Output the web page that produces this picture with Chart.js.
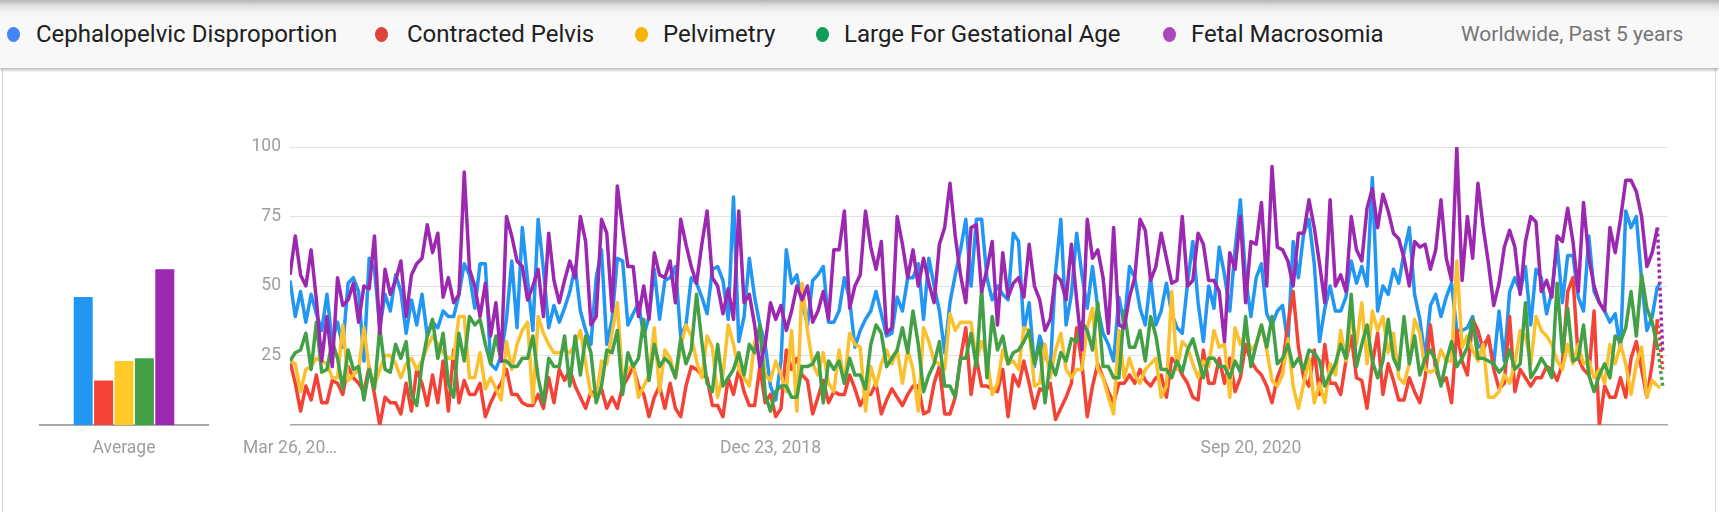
<!DOCTYPE html>
<html><head><meta charset="utf-8">
<script src="https://cdn.jsdelivr.net/npm/chart.js@4"></script>
<style>
html,body{margin:0;padding:0;}
body{width:1719px;height:512px;position:relative;overflow:hidden;background:#fff;font-family:Roboto,sans-serif;}
#header{position:absolute;left:0;top:0;width:1719px;height:68px;background:linear-gradient(#b5b5b5 0px,#dcdcdc 5px,#f2f2f2 12px,#f8f8f8 18px);box-shadow:0 2px 3px rgba(0,0,0,0.28);z-index:2;}
.item{position:absolute;top:20px;font-size:24px;line-height:28px;color:#202020;white-space:nowrap;}
.dot{position:absolute;top:27px;width:13px;height:15px;border-radius:50%;}
#card{position:absolute;left:2px;top:68px;width:1712px;height:460px;border-left:1px solid #d6d6d6;border-right:1px solid #d6d6d6;}
#avg{position:absolute;left:0;top:120px;}
#main{position:absolute;left:230px;top:120px;}
</style>
</head>
<body>
<div id="card"></div>
<div id="header">
  <div class="dot" style="left:7px;background:#4285f4"></div><div class="item" style="left:36px">Cephalopelvic Disproportion</div>
  <div class="dot" style="left:375px;background:#db4437"></div><div class="item" style="left:407px">Contracted Pelvis</div>
  <div class="dot" style="left:635px;background:#f4b400"></div><div class="item" style="left:663px">Pelvimetry</div>
  <div class="dot" style="left:816px;background:#0f9d58"></div><div class="item" style="left:844px">Large For Gestational Age</div>
  <div class="dot" style="left:1163px;background:#ab47bc"></div><div class="item" style="left:1191px">Fetal Macrosomia</div>
  <div class="item" style="left:1461px;font-size:21px;color:#757575">Worldwide, Past 5 years</div>
</div>
<canvas id="avg" width="230" height="350"></canvas>
<canvas id="main" width="1489" height="350"></canvas>
<script>
const seriesNames = ["Cephalopelvic Disproportion","Contracted Pelvis","Pelvimetry","Large For Gestational Age","Fetal Macrosomia"];

const cephalopelvic = [
52,39,48,37,47,40,34,47,30,37,28,51,53,48,23,60,56,35,47,41,54,48,33,45,36,
47,32,37,35,41,39,39,47,58,54,42,58,58,22,20,25,38,59,35,71,52,34,74,56,35,43,37,42,
48,57,41,34,29,53,63,29,38,60,59,36,40,44,32,39,56,38,52,53,57,32,36,53,51,46,40,
56,57,52,38,82,30,39,60,46,36,29,14,9,23,63,51,54,44,36,52,54,57,37,37,41,53,
45,28,34,38,41,48,40,32,33,46,41,53,53,58,38,60,50,41,26,44,54,63,74,50,74,74,53,
45,50,47,45,69,66,34,44,21,32,26,20,55,74,36,47,69,54,42,57,42,33,29,23,46,36,
57,53,42,36,53,36,41,51,40,35,33,51,66,44,30,50,42,64,54,41,63,81,53,39,53,58,
40,36,41,43,29,66,53,69,74,58,30,42,50,41,41,46,59,51,57,50,89,41,50,47,56,51,
62,71,47,38,24,43,47,39,46,51,34,34,35,39,28,29,31,22,41,23,48,53,48,57,36,56,
53,40,48,65,44,61,61,46,41,68,48,44,41,37,40,27,77,71,75,52,34,39,50,51];

const contractedPelvis = [
23,15,5,14,9,18,8,8,16,15,11,21,17,15,12,21,11,0,10,8,8,4,15,5,20,
15,7,18,8,23,5,27,8,16,11,11,15,3,8,12,15,20,11,11,8,7,7,11,6,17,8,20,16,
20,14,10,6,12,11,13,6,10,6,14,17,21,14,11,3,10,14,6,15,6,3,14,21,20,18,17,
7,7,3,17,11,20,12,7,7,21,8,11,3,6,27,20,24,18,16,4,10,16,8,12,11,11,
18,13,7,11,11,15,4,9,13,10,7,11,14,14,4,5,15,21,4,4,10,24,35,11,24,14,14,
13,12,20,3,18,14,23,15,6,13,12,15,2,6,10,15,35,22,3,14,22,17,12,8,15,15,
18,15,20,16,14,17,18,10,24,22,18,15,10,9,27,15,15,24,15,24,12,17,29,23,20,18,
14,8,17,22,36,48,28,17,14,27,11,29,15,15,11,23,32,17,16,6,22,33,11,22,16,9,
9,17,12,8,17,36,20,15,17,8,34,23,18,38,34,27,32,20,13,15,39,12,20,17,14,17,
17,21,20,16,22,48,53,24,20,18,41,0,14,10,10,17,10,24,30,20,10,22,38,20];

const pelvimetry = [
23,22,12,20,21,24,23,22,17,17,36,16,18,20,35,20,14,20,25,25,22,17,22,24,20,
23,28,32,29,26,24,24,39,39,17,17,26,13,17,13,9,30,20,29,34,37,8,39,33,29,26,26,27,
26,29,34,22,11,10,23,22,33,44,16,20,22,10,14,18,35,12,27,24,17,28,36,32,23,17,32,
28,10,18,36,29,20,17,14,30,34,18,16,23,18,12,34,5,51,34,22,18,26,15,12,27,15,
33,29,28,5,21,14,22,27,22,27,15,27,20,5,35,30,23,22,20,40,34,37,37,37,23,30,24,
11,15,27,22,23,20,35,34,14,15,29,17,27,33,20,17,20,20,35,42,20,17,10,4,34,17,
24,18,15,20,22,24,10,14,48,20,30,28,22,17,23,21,34,28,29,10,35,29,33,27,29,36,
27,16,14,18,31,14,6,15,24,8,15,8,22,18,34,23,39,29,44,22,41,34,39,26,33,17,
15,22,38,33,20,19,20,27,23,23,59,28,32,27,23,29,10,10,12,18,15,22,34,32,22,39,
34,32,29,23,20,29,22,29,22,23,17,20,15,29,22,29,22,11,22,28,10,16,14,13];

const largeForGestationalAge = [
23,26,27,33,20,37,19,20,30,24,13,27,20,21,9,20,13,35,20,19,29,24,30,11,7,
22,32,38,24,33,15,10,33,23,39,36,38,29,22,32,23,23,21,21,24,24,32,17,8,24,21,21,32,
14,32,18,32,26,8,14,27,26,34,11,26,21,24,38,16,29,21,24,22,17,31,22,27,47,30,15,
12,29,14,17,20,26,18,29,26,36,11,5,12,14,14,10,10,21,21,22,26,8,23,20,23,15,
24,18,18,13,29,36,33,21,24,27,35,26,41,29,12,18,22,30,14,14,10,24,24,33,21,49,17,
39,27,32,22,26,27,30,34,22,29,8,23,18,26,23,31,30,37,34,27,44,21,21,17,17,41,
28,28,34,23,39,32,20,20,17,23,19,27,31,24,17,24,24,21,21,17,23,19,39,21,29,36,
28,39,22,24,29,21,24,20,27,26,23,14,18,22,29,24,47,21,29,36,23,17,23,38,24,20,
39,22,32,18,24,27,23,14,23,30,21,24,28,38,24,24,23,22,19,21,27,20,22,44,17,20,
24,21,17,51,26,42,23,24,36,18,12,18,22,17,32,30,35,48,32,54,42,37,28,14];

const fetalMacrosomia = [
54,68,54,50,63,45,23,39,21,53,43,45,51,37,50,49,68,33,56,47,52,59,39,54,58,
60,72,62,69,46,53,44,47,91,56,50,39,51,32,44,23,75,68,59,57,45,50,56,39,69,52,44,52,
59,53,75,66,36,39,74,69,41,86,71,57,57,39,50,38,62,54,53,59,44,74,65,57,51,65,77,
53,50,40,49,38,77,44,47,36,21,29,44,38,43,34,41,50,45,50,37,41,48,38,63,63,77,
42,50,54,77,64,56,66,33,35,75,65,53,63,50,60,51,44,65,71,87,68,54,44,71,72,48,56,
66,36,62,46,51,53,46,65,50,45,34,38,54,52,45,65,45,27,74,60,63,53,33,71,36,35,
46,53,74,70,52,57,69,60,51,52,75,50,52,69,65,52,52,48,30,62,56,75,44,66,65,80,
50,93,64,63,59,50,69,69,81,71,58,44,81,50,54,48,75,63,59,78,85,71,83,77,69,67,
60,50,66,64,65,56,63,81,60,52,100,52,75,60,87,71,58,43,51,64,70,64,47,66,75,73,
48,52,46,68,66,78,66,48,80,60,50,44,41,71,62,74,88,88,84,75,57,62,71,26];

const averages = [46, 16, 23, 24, 56];
const tickIndex = [0, 91, 182];
const tickLabels = ["Mar 26, 20\u2026", "Dec 23, 2018", "Sep 20, 2020"];

const series = [cephalopelvic, contractedPelvis, pelvimetry, largeForGestationalAge, fetalMacrosomia];
const lineColors = ["#2196f3", "#f44336", "#fbc02d", "#43a047", "#9c27b0"];
const barColors  = ["#2196f3", "#f44336", "#ffca28", "#43a047", "#9c27b0"];
const drawOrder = [4, 3, 2, 1, 0];
const axisFont = {family: "Roboto", size: 17.5};
const axisColor = "#9e9e9e";

new Chart(document.getElementById("avg"), {
  type: "bar",
  data: {
    labels: ["Average"],
    datasets: seriesNames.map((n, k) => ({
      label: n, data: [averages[k]], backgroundColor: barColors[k],
      barPercentage: 0.93, categoryPercentage: 0.607, borderWidth: 0
    }))
  },
  options: {
    responsive: false, animation: false,
    layout: {padding: {left: 40, right: 22, top: 27, bottom: 0}},
    plugins: {legend: {display: false}, tooltip: {enabled: false}},
    scales: {
      x: {grid: {display: false}, border: {display: true, color: "#a8a8a8", width: 2},
          ticks: {padding: 5, color: axisColor, font: axisFont},
          afterFit: s => { s.height = 45; }},
      y: {display: false, min: 0, max: 100}
    }
  }
});

new Chart(document.getElementById("main"), {
  type: "line",
  data: {
    datasets: seriesNames.map((n, k) => ({
      label: n,
      data: series[k].map((v, i) => ({x: i, y: v})),
      borderColor: lineColors[k], backgroundColor: lineColors[k],
      borderWidth: 3.5, pointRadius: 0, tension: 0, fill: false,
      order: drawOrder[k],
      borderJoinStyle: "round",
      segment: {borderDash: c => c.p1DataIndex === series[k].length - 1 ? [3, 3] : undefined}
    }))
  },
  options: {
    responsive: false, animation: false,
    layout: {padding: {left: 0, right: 51, top: 27, bottom: 0}},
    plugins: {legend: {display: false}, tooltip: {enabled: false}},
    scales: {
      x: {
        type: "linear", min: 0, max: 261,
        grid: {display: false}, border: {display: false},
        afterBuildTicks: s => { s.ticks = tickIndex.map(v => ({value: v})); },
        afterFit: s => { s.height = 45; },
        ticks: {autoSkip: false, maxRotation: 0, padding: 5, color: axisColor, font: axisFont,
                callback: v => tickLabels[tickIndex.indexOf(v)]}
      },
      y: {
        min: 0, max: 100,
        ticks: {stepSize: 25, padding: 9, color: axisColor, font: axisFont,
                callback: v => v === 0 ? "" : v},
        grid: {drawTicks: false,
               color: c => c.tick.value === 0 ? "#a8a8a8" : "#e2e2e2",
               lineWidth: c => c.tick.value === 0 ? 1.5 : 1},
        border: {display: false},
        afterFit: s => { s.width = 60; }
      }
    }
  }
});
</script>
</body></html>
